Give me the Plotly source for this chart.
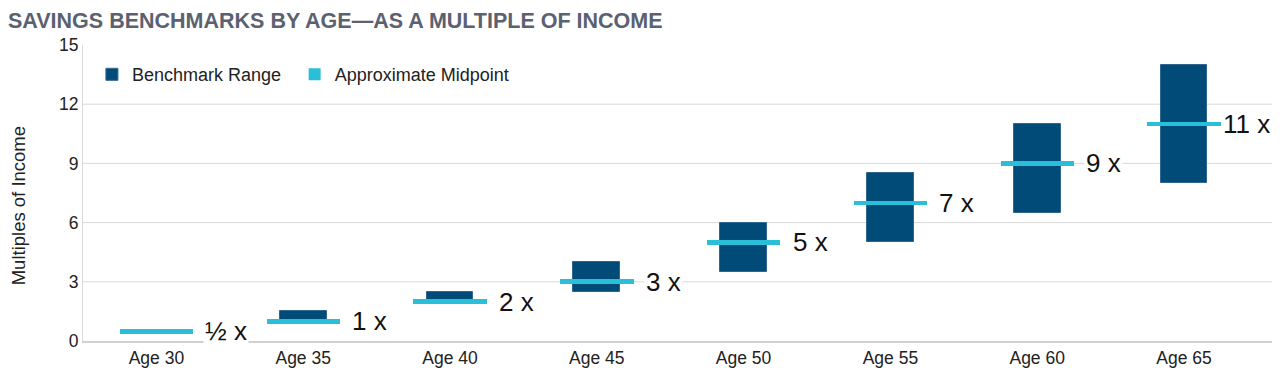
import plotly.graph_objects as go

ages = ["Age 30", "Age 35", "Age 40", "Age 45", "Age 50", "Age 55", "Age 60", "Age 65"]
range_low = [0.5, 1.0, 2.0, 2.5, 3.5, 5.0, 6.5, 8.0]
range_high = [0.5, 1.5, 2.5, 4.0, 6.0, 8.5, 11.0, 14.0]
midpoints = [0.5, 1, 2, 3, 5, 7, 9, 11]
mid_labels = ["½ x", "1 x", "2 x", "3 x", "5 x", "7 x", "9 x", "11 x"]
y_ticks = [0, 3, 6, 9, 12, 15]

DARK = "#004B78"
CYAN = "#29BFD9"
GRID = "#D9D9D9"
FONT = "Liberation Sans, Arial, sans-serif"
MID_THICK = 0.24  # thickness of midpoint marker in axis units

fig = go.Figure()

fig.add_trace(go.Bar(
    x=ages,
    y=[h - l for h, l in zip(range_high, range_low)],
    base=range_low,
    width=0.32,
    marker=dict(color=DARK, line=dict(color="#2F6790", width=1)),
    name="Benchmark Range",
    legend="legend",
))

fig.add_trace(go.Bar(
    x=ages,
    y=[MID_THICK] * len(midpoints),
    base=[m - MID_THICK / 2 for m in midpoints],
    width=0.5,
    marker=dict(color=CYAN, line=dict(width=0)),
    name="Approximate Midpoint",
    legend="legend2",
))

for v in y_ticks[1:-1]:
    fig.add_hline(y=v, line=dict(color=GRID, width=1), layer="below")

for i, (m, t) in enumerate(zip(midpoints, mid_labels)):
    last = i == len(midpoints) - 1
    fig.add_annotation(
        x=ages[i], y=m, text=t, showarrow=False,
        xanchor="left", yanchor="middle",
        xshift=37 if last else 47,
        font=dict(family=FONT, size=26, color="#111111"),
        bgcolor="white", borderpad=1,
    )

# y-axis title
fig.add_annotation(
    text="Multiples of Income", xref="paper", yref="paper",
    x=0, y=0.455, xshift=-65, textangle=-90, showarrow=False,
    xanchor="center", yanchor="middle",
    font=dict(family=FONT, size=18.5, color="#222222"),
)

legend_style = dict(
    orientation="h", y=0.9, xanchor="left", yanchor="middle",
    font=dict(family=FONT, size=18, color="#222222"),
    bgcolor="rgba(0,0,0,0)", itemclick=False,
)

# page body adds an 8px offset; figure sized to fit the 1280x376 window
fig.update_layout(
    width=1272, height=368,
    margin=dict(l=75, r=8, t=37, b=35, autoexpand=False),
    paper_bgcolor="white", plot_bgcolor="white",
    barmode="overlay",
    bargap=0,
    font=dict(family=FONT, size=17, color="#222222"),
    title=dict(
        text="<b>SAVINGS BENCHMARKS BY AGE—AS A MULTIPLE OF INCOME</b>",
        font=dict(family=FONT, size=21.5, color="#5B6170"),
        x=0, xanchor="left", xref="container", pad=dict(l=0, t=0),
        y=1 - 5 / 368, yanchor="top", yref="container",
    ),
    legend=dict(x=0.0075, **legend_style),
    legend2=dict(x=0.178, **legend_style),
    showlegend=True,
    xaxis=dict(
        type="category", showgrid=False, showline=True, automargin=False,
        linecolor="#D0D0D0", linewidth=2, ticks="",
        tickfont=dict(family=FONT, size=17.5, color="#222222"),
    ),
    yaxis=dict(
        range=[0, 15], tickvals=y_ticks, showgrid=False, zeroline=False,
        automargin=False,
        showline=True, linecolor=GRID, linewidth=1, mirror=True, ticks="",
        tickfont=dict(family=FONT, size=17.5, color="#222222"),
    ),
)

fig.write_html("out.html")
